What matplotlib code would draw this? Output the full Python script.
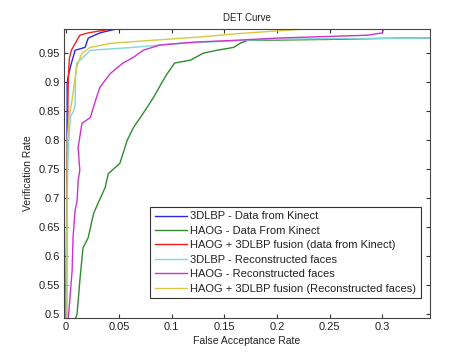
import numpy as np
import matplotlib
matplotlib.use("Agg")
import matplotlib.pyplot as plt

plt.rcParams['font.family'] = ['Liberation Sans', 'DejaVu Sans']

# curves (false acceptance rate, verification rate)
far_lbp_kin = [0.0, 0.001, 0.001, 0.002, 0.004, 0.0085, 0.018, 0.021, 0.032, 0.047]
vr_lbp_kin = [0.49, 0.85, 0.898, 0.91, 0.926, 0.955, 0.96, 0.976, 0.985, 0.9915]

far_haog_kin = [0.0085, 0.0104, 0.013, 0.016, 0.021, 0.026, 0.030, 0.037, 0.040, 0.051,
                0.058, 0.064, 0.073, 0.083, 0.092, 0.096, 0.103, 0.118, 0.130, 0.143,
                0.159, 0.165, 0.172, 0.26, 0.317, 0.35]
vr_haog_kin = [0.49, 0.50, 0.557, 0.614, 0.632, 0.673, 0.69, 0.718, 0.742, 0.76,
               0.80, 0.822, 0.846, 0.874, 0.903, 0.915, 0.933, 0.938, 0.95, 0.955,
               0.96, 0.967, 0.972, 0.974, 0.976, 0.976]

far_fus_kin = [0.0, 0.001, 0.002, 0.003, 0.005, 0.013, 0.021, 0.042]
vr_fus_kin = [0.49, 0.75, 0.90, 0.94, 0.955, 0.981, 0.985, 0.9915]

far_lbp_rec = [0.0, 0.001, 0.002, 0.004, 0.007, 0.0085, 0.009, 0.010, 0.015, 0.023,
               0.064, 0.108, 0.165, 0.20, 0.25, 0.35]
vr_lbp_rec = [0.49, 0.70, 0.78, 0.84, 0.85, 0.86, 0.91, 0.933, 0.941, 0.955,
              0.96, 0.967, 0.972, 0.974, 0.975, 0.976]

far_haog_rec = [0.002, 0.0057, 0.0066, 0.0085, 0.0104, 0.0114, 0.013, 0.0114, 0.015,
                0.023, 0.028, 0.032, 0.042, 0.054, 0.064, 0.073, 0.089, 0.121, 0.159,
                0.200, 0.286, 0.300, 0.301]
vr_haog_rec = [0.49, 0.575, 0.632, 0.678, 0.695, 0.73, 0.748, 0.787, 0.829,
               0.839, 0.869, 0.891, 0.915, 0.933, 0.943, 0.955, 0.964, 0.969, 0.972,
               0.976, 0.981, 0.985, 0.992]

far_fus_rec = [0.001, 0.001, 0.003, 0.0057, 0.010, 0.015, 0.023, 0.042, 0.08, 0.127,
               0.165, 0.229]
vr_fus_rec = [0.49, 0.80, 0.84, 0.869, 0.926, 0.95, 0.96, 0.967, 0.972, 0.978,
              0.984, 0.992]

labels = ["3DLBP - Data from Kinect",
          "HAOG - Data From Kinect",
          "HAOG + 3DLBP fusion (data from Kinect)",
          "3DLBP - Reconstructed faces",
          "HAOG - Reconstructed faces",
          "HAOG + 3DLBP fusion (Reconstructed faces)"]

fig = plt.figure(figsize=(4.74, 3.55), dpi=100)
ax = fig.add_axes([0.135, 0.104, 0.772, 0.814])

ax.plot(far_lbp_kin, vr_lbp_kin, color='#2a2ae0', lw=1, label=labels[0])
ax.plot(far_haog_kin, vr_haog_kin, color='#2e8b2e', lw=1, label=labels[1])
ax.plot(far_fus_kin, vr_fus_kin, color='#f02020', lw=1, label=labels[2])
ax.plot(far_lbp_rec, vr_lbp_rec, color='#7fd8d8', lw=1, label=labels[3])
ax.plot(far_haog_rec, vr_haog_rec, color='#cc33cc', lw=1, label=labels[4])
ax.plot(far_fus_rec, vr_fus_rec, color='#d6c840', lw=1, label=labels[5])

ax.set_xlim(-0.002, 0.345)
ax.set_ylim(0.493, 0.9915)
ax.set_xticks([0, 0.05, 0.1, 0.15, 0.2, 0.25, 0.3])
ax.set_xticklabels(['0', '0.05', '0.1', '0.15', '0.2', '0.25', '0.3'])
ax.set_yticks([0.5, 0.55, 0.6, 0.65, 0.7, 0.75, 0.8, 0.85, 0.9, 0.95])
ax.set_yticklabels(['0.5', '0.55', '0.6', '0.65', '0.7', '0.75', '0.8', '0.85', '0.9', '0.95'])
ax.tick_params(direction='in', top=True, right=True, length=3, labelsize=8,
               color='#333333', labelcolor='#222222', pad=3)
for s in ax.spines.values():
    s.set_color('#444444')
    s.set_linewidth(0.8)

ax.set_title("DET Curve", fontsize=7, color='#222222', pad=6)
ax.set_xlabel("False Acceptance Rate", fontsize=7.5, color='#222222', labelpad=3)
ax.set_ylabel("Verification Rate", fontsize=7.5, color='#222222', labelpad=4)

leg = ax.legend(loc='lower right', bbox_to_anchor=(0.975, 0.069), fontsize=8,
                frameon=True, fancybox=False, edgecolor='#333333', framealpha=1,
                handlelength=2.9, handletextpad=0.3, borderpad=0.4, labelspacing=0.4,
                borderaxespad=0)
leg.get_frame().set_linewidth(0.8)
for t in leg.get_texts():
    t.set_color('#222222')

fig.savefig("out.png", dpi=100)
